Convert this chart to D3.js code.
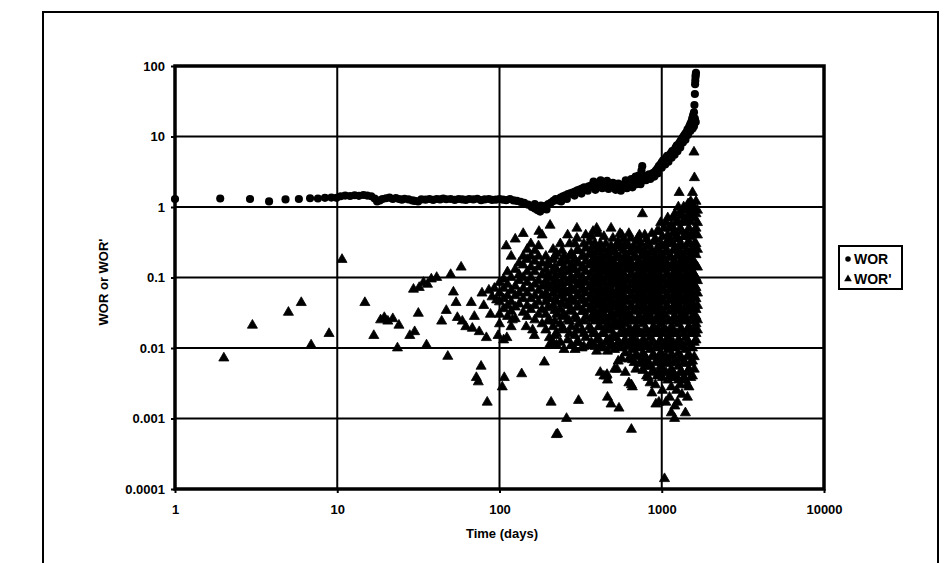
<!DOCTYPE html>
<html><head><meta charset="utf-8">
<script src="https://cdn.jsdelivr.net/npm/d3@7"></script>
<style>
body{margin:0;background:#fff}
svg{display:block}
text{font-family:"Liberation Sans",Arial,sans-serif;font-weight:bold;fill:#000}
</style>
</head><body>
<svg id="chart" width="945" height="563"></svg>
<script>
// ---------------- data ----------------
const xTickValues = [1, 10, 100, 1000, 10000];
const xTickLabels = ["1", "10", "100", "1000", "10000"];
const yTickValues = [0.0001, 0.001, 0.01, 0.1, 1, 10, 100];
const yTickLabels = ["0.0001", "0.001", "0.01", "0.1", "1", "10", "100"];
const seriesNames = ["WOR", "WOR'"];
const xTitle = "Time (days)";
const yTitle = "WOR or WOR'";

// WOR: [day, value]
const worPoints = [
[1,1.3],[1.9,1.32],[2.9,1.3],[3.8,1.2],[4.8,1.28],[5.8,1.3],[6.8,1.33],[7.6,1.32],[8.4,1.35],[9.2,1.36],[9.9,1.35],
[10.5,1.42],[11.2,1.45],[12,1.43],[12.8,1.47],[13.6,1.44],[14.5,1.48],[15.3,1.45],[16.2,1.42],[17,1.32],[17.6,1.2],
[18.3,1.24],[19,1.3],[20,1.33],[21,1.36],[22,1.3],[23,1.34],[24,1.3],[25,1.27],[26,1.31],[27.5,1.28],[29,1.24],
[30,1.22],[31.5,1.2],[33,1.28],[35,1.27],[37,1.3],[39,1.26],[41,1.3],[43,1.28],[45,1.32],[47,1.29],[50,1.3],
[53,1.26],[56,1.3],[59,1.28],[62,1.26],[65,1.3],[69,1.28],[73,1.31],[77,1.25],[81,1.28],[86,1.3],[90,1.26],
[95,1.27],[100,1.3],[105,1.27],[110,1.25],[116,1.3],[122,1.24],[128,1.22],[135,1.18],[142,1.15],[150,1.08],
[158,1.0],[165,0.95],[172,0.9],[178,0.86],[185,0.94],[192,1.04],[200,1.1],[208,1.16],[215,1.22],[222,1.3],
[230,1.24],[238,1.36],[246,1.42],[255,1.46],[264,1.52],[273,1.56],[282,1.6],[292,1.66],[302,1.72],[312,1.76],
[322,1.82],[333,1.9],[344,1.84],[355,1.96],[367,2.02],[380,1.9],[392,2.1],[405,2.0],[418,2.12],[432,2.22],
[446,2.05],[460,2.12],[475,2.0],[490,1.95],[505,1.9],[520,2.0],[536,1.85],[552,1.95],[570,2.0],[588,2.1],
[606,2.2],[625,2.1],[645,2.3],[665,2.2],[686,2.4],[708,2.5],[730,2.4],[750,3.3],[758,3.8],[775,2.6],[795,2.7],
[815,2.8],[836,2.9],[857,2.8],[878,3.0],[900,3.1],[920,3.3],[940,3.5],[960,3.8],[980,4.0],[1000,4.3],[1020,4.6],
[1040,4.5],[1060,5.0],[1080,5.3],[1100,5.0],[1120,5.5],[1140,5.8],[1160,6.2],[1180,6.0],[1200,6.5],[1220,7.0],
[1240,7.5],[1260,7.2],[1280,8.0],[1300,8.5],[1320,9.0],[1340,9.5],[1360,10],[1380,10.5],[1400,11],[1420,11.5],
[1440,12.5],[1460,13],[1480,14],[1500,15],[1520,16],[1540,18],[1550,13],[1560,20],[1570,17],[1580,22],[1590,28],
[1600,40],[1605,55],[1610,62],[1615,70],[1620,75],[1625,80],
[165,1.1],[180,1.05],[195,0.92],[240,1.2],[260,1.3],[290,1.45],[320,1.55],[350,1.7],[390,1.75],[430,1.85],
[470,1.8],[520,1.75],[560,1.7],[610,1.85],[660,1.9],[700,2.1],[740,2.1],[800,2.4],[850,2.5],[900,2.7],[950,3.0],
[1000,3.6],[1050,4.0],[1100,4.4],[1150,5.0],[1200,5.5],[1250,6.2],[1300,7.0],[1350,8.2],[1400,9.0],[1450,10.5],
[1500,12],[1550,15],[1580,14],[1600,18],[1620,16],
[380,2.3],[420,2.4],[460,2.35],[500,2.2],[540,2.15],[600,2.4],[650,2.5],[690,2.7],[720,2.8]
];

// WOR': isolated points [day, value]
const worPrimeScatter = [
[2.0,0.0072],[3.0,0.021],[5.0,0.032],[6.0,0.044],[6.9,0.011],[8.9,0.016],[10.7,0.18],[14.8,0.044],[16.8,0.015],
[18.5,0.025],[19.5,0.027],[20.5,0.024],[22,0.026],[24,0.021],[23.5,0.010],[28,0.015],[30,0.017],[29.5,0.068],
[32,0.072],[34,0.085],[36,0.08],[38,0.095],[41,0.1],[50,0.11],[58,0.14],[31.6,0.031],[35.5,0.011],[44,0.024],
[47,0.034],[48,0.0076],[54,0.044],[52,0.062],[55,0.027],[59,0.024],[62,0.02],[67,0.044],[68,0.019],[70,0.028],
[75,0.017],[77,0.0055],[72,0.0038],[74,0.0033],[83,0.014],[84,0.0017],[86,0.066],[90,0.053],[96,0.048],[98,0.015],
[80,0.04],[88,0.03],[93,0.07],[78,0.06],
[110,0.28],[125,0.35],[140,0.42],[175,0.45],[118,0.2],[205,0.55],[300,0.5],
[104,0.0028],[107,0.0038],[111,0.014],[120,0.025],[137,0.0043],[146,0.02],[160,0.018],[164,0.015],[189,0.0063],
[208,0.0017],[224,0.00059],[259,0.001],[228,0.0006],[650,0.0007],[455,0.004],[460,0.0042],[463,0.002],[530,0.005],
[545,0.0014],[650,0.003],[660,0.0068],[870,0.0023],[920,0.0016],[960,0.0017],[1060,0.0017],[1200,0.001],
[1250,0.0017],[1440,0.002],[1040,0.00014],[1580,6],[1590,2.6],[1280,1.6],[1450,1.1],[760,0.8]
];

// WOR': dense cloud, grouped by day -> values
const worPrimeColumns = [
[100,[0.06,0.045,0.085,0.03,0.022]],
[106,[0.07,0.05,0.095,0.036,0.013]],
[112,[0.055,0.08,0.04,0.028,0.12]],
[118,[0.065,0.1,0.045,0.02,0.033]],
[125,[0.075,0.055,0.13,0.038,0.026]],
[132,[0.09,0.06,0.042,0.11,0.16]],
[140,[0.07,0.05,0.1,0.032,0.15,0.2]],
[148,[0.085,0.06,0.12,0.04,0.18,0.25,0.028]],
[156,[0.1,0.07,0.05,0.14,0.2,0.3,0.035]],
[165,[0.08,0.12,0.055,0.17,0.24,0.04,0.025]],
[174,[0.09,0.065,0.14,0.2,0.045,0.03,0.28]],
[183,[0.11,0.075,0.16,0.055,0.035,0.022,0.4]],
[193,[0.13,0.09,0.06,0.045,0.03,0.018,0.2]],
[203,[0.1,0.07,0.15,0.05,0.025,0.014,0.011]],
[214,[0.12,0.085,0.06,0.04,0.02,0.012,0.18,0.25]],
[225,[0.09,0.065,0.13,0.045,0.03,0.016,0.011,0.22]],
[237,[0.11,0.075,0.055,0.16,0.035,0.022,0.012,0.3]],
[250,[0.14,0.1,0.07,0.05,0.03,0.018,0.0095,0.2]],
[263,[0.12,0.085,0.06,0.04,0.17,0.025,0.013,0.4]],
[277,[0.15,0.1,0.07,0.05,0.22,0.035,0.02,0.011]],
[292,[0.13,0.09,0.065,0.045,0.18,0.3,0.028,0.015,0.0095]],
[307,[0.11,0.08,0.055,0.16,0.24,0.038,0.022,0.012,0.0018]],
[323,[0.14,0.1,0.07,0.05,0.2,0.033,0.018,0.01]],
[340,[0.12,0.085,0.06,0.17,0.26,0.042,0.028,0.014,0.4]],
[358,[0.15,0.1,0.072,0.05,0.21,0.035,0.02,0.011,0.32]],
[377,[0.13,0.09,0.065,0.045,0.18,0.28,0.03,0.016,0.45]],
[397,[0.11,0.08,0.055,0.15,0.23,0.04,0.025,0.013,0.009,0.5]],
[418,[0.14,0.1,0.07,0.05,0.19,0.3,0.034,0.02,0.011,0.0045]],
[440,[0.12,0.085,0.06,0.17,0.25,0.042,0.028,0.016,0.01,0.38,0.004]],
[463,[0.15,0.1,0.072,0.05,0.21,0.035,0.022,0.013,0.009,0.0035]],
[487,[0.13,0.09,0.065,0.045,0.18,0.28,0.03,0.018,0.011,0.5,0.0016]],
[512,[0.11,0.08,0.055,0.15,0.23,0.038,0.025,0.014,0.0095,0.005]],
[539,[0.14,0.1,0.07,0.05,0.19,0.32,0.034,0.02,0.012,0.0065]],
[567,[0.12,0.085,0.06,0.17,0.26,0.042,0.028,0.016,0.01,0.4,0.007]],
[596,[0.15,0.1,0.072,0.05,0.21,0.035,0.022,0.013,0.0085,0.3,0.0045]],
[627,[0.13,0.09,0.065,0.045,0.18,0.28,0.03,0.018,0.011,0.007,0.0032,0.42]],
[659,[0.11,0.08,0.055,0.15,0.23,0.038,0.025,0.014,0.0095,0.0028]],
[693,[0.14,0.1,0.07,0.05,0.19,0.32,0.034,0.02,0.012,0.008,0.005]],
[729,[0.12,0.085,0.06,0.17,0.26,0.042,0.028,0.016,0.01,0.006,0.4]],
[766,[0.15,0.1,0.072,0.05,0.21,0.035,0.022,0.013,0.0085,0.0048]],
[806,[0.13,0.09,0.065,0.045,0.18,0.28,0.03,0.018,0.011,0.007,0.004,0.35]],
[847,[0.11,0.08,0.055,0.15,0.23,0.038,0.025,0.014,0.0095,0.0055,0.0032]],
[891,[0.14,0.1,0.07,0.05,0.19,0.32,0.034,0.02,0.012,0.008,0.0048]],
[937,[0.12,0.085,0.06,0.17,0.26,0.042,0.028,0.016,0.01,0.0065,0.004,0.45]],
[985,[0.15,0.1,0.072,0.05,0.21,0.035,0.022,0.013,0.0085,0.0055,0.3,0.6]],
[1036,[0.13,0.09,0.065,0.045,0.18,0.28,0.03,0.018,0.011,0.007,0.0045,0.5]],
[1089,[0.11,0.08,0.055,0.15,0.23,0.038,0.025,0.014,0.0095,0.006,0.0035,0.4,0.7]],
[1145,[0.14,0.1,0.07,0.05,0.19,0.32,0.034,0.02,0.012,0.008,0.005,0.0028,0.0012,0.55]],
[1204,[0.12,0.085,0.06,0.17,0.26,0.042,0.028,0.016,0.01,0.0065,0.004,0.0015,0.45,0.8]],
[1266,[0.15,0.1,0.072,0.05,0.21,0.035,0.022,0.013,0.0085,0.0055,0.0035,0.35,0.6,1.0]],
[1331,[0.13,0.09,0.065,0.045,0.18,0.28,0.03,0.018,0.011,0.007,0.0045,0.0022,0.45,0.75]],
[1399,[0.11,0.08,0.055,0.15,0.23,0.038,0.025,0.014,0.0095,0.006,0.0035,0.0012,0.38,0.6,0.9]],
[1471,[0.14,0.1,0.07,0.05,0.19,0.32,0.034,0.02,0.012,0.008,0.005,0.0028,0.5,0.8,1.1]],
[1547,[0.12,0.085,0.06,0.17,0.26,0.042,0.028,0.016,0.01,0.0065,0.004,0.42,0.7,1.0,1.6]],
[1626,[0.15,0.1,0.072,0.05,0.21,0.035,0.022,0.013,0.3,0.5,0.8,1.2,0.028,0.016]],
// in-between columns filling the darker parts of the cloud
[198,[0.16,0.11,0.08,0.052,0.037,0.024]],
[219,[0.2,0.14,0.1,0.072,0.05,0.034,0.024,0.015]],
[243,[0.24,0.17,0.12,0.085,0.06,0.042,0.028,0.019]],
[270,[0.3,0.2,0.13,0.092,0.066,0.047,0.033,0.024,0.016]],
[300,[0.36,0.24,0.16,0.11,0.078,0.055,0.038,0.026,0.018,0.012]],
[331,[0.3,0.2,0.135,0.092,0.066,0.047,0.033,0.024,0.016,0.0105]],
[368,[0.38,0.24,0.16,0.11,0.078,0.055,0.038,0.026,0.018,0.012]],
[388,[0.3,0.2,0.135,0.092,0.066,0.047,0.033,0.024,0.016,0.0105]],
[408,[0.42,0.26,0.17,0.12,0.085,0.06,0.042,0.029,0.02,0.0135]],
[430,[0.2,0.135,0.092,0.066,0.047,0.033,0.024,0.016]],
[452,[0.3,0.2,0.14,0.1,0.07,0.05,0.036,0.026,0.018,0.012]],
[475,[0.24,0.16,0.115,0.078,0.056,0.04,0.027,0.019,0.013]],
[500,[0.36,0.25,0.17,0.12,0.083,0.06,0.043,0.03,0.021,0.015,0.0105]],
[525,[0.28,0.2,0.13,0.088,0.062,0.044,0.03,0.021,0.014]],
[553,[0.42,0.28,0.19,0.13,0.094,0.066,0.047,0.033,0.023,0.016,0.011]],
[582,[0.35,0.24,0.16,0.11,0.078,0.055,0.038,0.026,0.018,0.012]],
[612,[0.2,0.135,0.092,0.066,0.047,0.033,0.024,0.016,0.0105]],
[643,[0.36,0.24,0.16,0.11,0.078,0.055,0.038,0.026,0.018,0.012,0.0075]],
[676,[0.27,0.2,0.135,0.092,0.066,0.047,0.033,0.024,0.016,0.0105,0.0062]],
[711,[0.36,0.24,0.16,0.11,0.078,0.055,0.038,0.026,0.018,0.012,0.0075]],
[747,[0.3,0.2,0.135,0.092,0.066,0.047,0.033,0.024,0.016,0.0105,0.0065]],
[786,[0.4,0.24,0.16,0.11,0.078,0.055,0.038,0.026,0.018,0.012,0.0075,0.0055]],
[826,[0.3,0.2,0.135,0.092,0.066,0.047,0.033,0.024,0.016,0.0105,0.0062,0.0038]],
[869,[0.42,0.24,0.16,0.11,0.078,0.055,0.038,0.026,0.018,0.012,0.0075,0.0045]],
[914,[0.35,0.2,0.135,0.092,0.066,0.047,0.033,0.024,0.016,0.0105,0.0062,0.003]],
[961,[0.45,0.24,0.16,0.11,0.078,0.055,0.038,0.026,0.018,0.012,0.0075,0.0045]],
[1010,[0.38,0.2,0.135,0.092,0.066,0.047,0.033,0.024,0.016,0.0105,0.0062,0.0038,0.0025]],
[1062,[0.6,0.3,0.24,0.16,0.11,0.078,0.055,0.038,0.026,0.018,0.012,0.0075,0.0045]],
[1116,[0.5,0.35,0.2,0.135,0.092,0.066,0.047,0.033,0.024,0.016,0.0105,0.0062,0.0038,0.002]],
[1175,[0.7,0.42,0.3,0.24,0.16,0.11,0.078,0.055,0.038,0.026,0.018,0.012,0.0075,0.0045]],
[1235,[0.62,0.38,0.2,0.135,0.092,0.066,0.047,0.033,0.024,0.016,0.0105,0.0062,0.0038,0.0025]],
[1298,[0.85,0.5,0.3,0.24,0.16,0.11,0.078,0.055,0.038,0.026,0.018,0.012,0.0075,0.0045,0.003]],
[1365,[1.0,0.65,0.38,0.2,0.135,0.092,0.066,0.047,0.033,0.024,0.016,0.0105,0.0062,0.0038]],
[1435,[0.95,0.7,0.42,0.3,0.24,0.16,0.11,0.078,0.055,0.038,0.026,0.018,0.012,0.0075,0.0045,0.003]],
[1508,[1.2,0.9,0.62,0.38,0.2,0.135,0.092,0.066,0.047,0.033,0.024,0.016,0.0105,0.0062,0.0038]],
[1586,[1.0,0.7,0.45,0.3,0.24,0.16,0.11,0.078,0.055,0.038,0.026,0.018,0.012,0.0075,0.005]],
[1660,[0.9,0.6,0.4,0.25,0.14,0.09,0.06,0.04,0.025,0.018]]
];

// ---------------- drawing ----------------
const svg = d3.select("#chart");
const plot = {left: 175, right: 824, top: 66, bottom: 489};

const x = d3.scaleLog().domain([1, 10000]).range([plot.left, plot.right]);
const y = d3.scaleLog().domain([0.0001, 100]).range([plot.bottom, plot.top]);

// outer frame (top, left, right)
svg.append("path")
  .attr("d", d3.line()([[43, 563], [43, 12], [938, 12], [938, 563]]))
  .attr("fill", "none").attr("stroke", "#000").attr("stroke-width", 2);

// gridlines
const grid = svg.append("g").attr("stroke", "#000").attr("stroke-width", 2);
grid.selectAll(".gx").data(xTickValues.slice(1, -1)).join("line")
  .attr("x1", d => x(d)).attr("x2", d => x(d)).attr("y1", plot.top).attr("y2", plot.bottom);
grid.selectAll(".gy").data(yTickValues.slice(1, -1)).join("line")
  .attr("y1", d => y(d)).attr("y2", d => y(d)).attr("x1", plot.left).attr("x2", plot.right);

// axes
const xAxis = d3.axisBottom(x).tickValues(xTickValues)
  .tickFormat((d, i) => xTickLabels[i]).tickSize(4).tickPadding(12);
const yAxis = d3.axisLeft(y).tickValues(yTickValues)
  .tickFormat((d, i) => yTickLabels[i]).tickSize(4).tickPadding(6);

const gx = svg.append("g").attr("transform", `translate(0,${plot.bottom})`).call(xAxis);
const gy = svg.append("g").attr("transform", `translate(${plot.left},0)`).call(yAxis);
[gx, gy].forEach(g => {
  g.select(".domain").remove();
  g.selectAll(".tick line").attr("stroke", "#000").attr("stroke-width", 2);
  g.selectAll(".tick text").attr("font-size", 13).attr("font-weight", "bold")
    .attr("font-family", "'Liberation Sans', Arial, sans-serif").attr("fill", "#000");
});

// plot border
svg.append("rect")
  .attr("x", plot.left).attr("y", plot.top)
  .attr("width", plot.right - plot.left).attr("height", plot.bottom - plot.top)
  .attr("fill", "none").attr("stroke", "#000").attr("stroke-width", 3.5);

// markers
const circleSym = d3.symbol().type(d3.symbolCircle).size(52);
const triSym = d3.symbol().type(d3.symbolTriangle).size(44);

const worPrimeAll = worPrimeScatter.concat(
  worPrimeColumns.flatMap(([day, vals]) => vals.map(v => [day, v]))
);

svg.append("g").selectAll("path").data(worPrimeAll).join("path")
  .attr("d", triSym)
  .attr("transform", d => `translate(${x(d[0])},${y(d[1])})`)
  .attr("fill", "#000").attr("stroke", "#000").attr("stroke-width", 0.8).attr("stroke-linejoin", "round");

svg.append("g").selectAll("path").data(worPoints).join("path")
  .attr("d", circleSym)
  .attr("transform", d => `translate(${x(d[0])},${y(d[1])})`)
  .attr("fill", "#000");

// axis titles
svg.append("text").attr("x", 502).attr("y", 538).attr("text-anchor", "middle")
  .attr("font-size", 13).text(xTitle);
svg.append("text").attr("transform", "translate(108,282) rotate(-90)")
  .attr("text-anchor", "middle").attr("font-size", 13).text(yTitle);

// legend
const lg = svg.append("g").attr("transform", "translate(839,246)");
lg.append("rect").attr("width", 63).attr("height", 43)
  .attr("fill", "#fff").attr("stroke", "#000").attr("stroke-width", 2);
const legendSyms = [d3.symbol().type(d3.symbolCircle).size(24), d3.symbol().type(d3.symbolTriangle).size(26)];
seriesNames.forEach((name, i) => {
  const yy = 13 + i * 20;
  lg.append("path").attr("d", legendSyms[i]).attr("transform", `translate(9,${yy})`).attr("fill", "#000");
  lg.append("text").attr("x", 15).attr("y", yy + 5).attr("font-size", 14).text(name);
});
</script>
</body></html>
